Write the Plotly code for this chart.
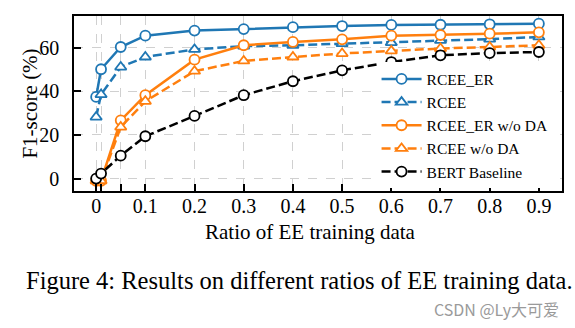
import plotly.graph_objects as go

# Ratio of event-extraction training data used
ratios = [0, 0.01, 0.05, 0.1, 0.2, 0.3, 0.4, 0.5, 0.6, 0.7, 0.8, 0.9]

# F1-score (%) per model
rcee_er = [37.4, 50.1, 60.3, 65.5, 67.8, 68.5, 69.4, 69.9, 70.4, 70.5, 70.7, 71.0]
rcee = [28.2, 38.5, 51.1, 55.7, 59.2, 60.7, 61.1, 61.8, 62.3, 63.3, 63.9, 64.9]
rcee_er_wo_da = [-1.0, -1.0, 26.7, 38.2, 54.5, 61.1, 62.6, 63.8, 65.5, 65.8, 66.4, 67.0]
rcee_wo_da = [-1.0, -1.0, 23.6, 35.4, 49.2, 53.9, 55.7, 57.3, 58.5, 59.6, 60.3, 61.1]
bert_baseline = [0.0, 2.3, 10.5, 19.4, 28.7, 38.2, 44.6, 49.6, 53.4, 56.5, 57.5, 58.0]

x_tickvals = [0, 0.01, 0.05, 0.1, 0.2, 0.3, 0.4, 0.5, 0.6, 0.7, 0.8, 0.9]
x_ticktext = ["0", "", "", "0.1", "0.2", "0.3", "0.4", "0.5", "0.6", "0.7", "0.8", "0.9"]
y_tickvals = [0, 20, 40, 60]

BLUE = "#1f77b4"
ORANGE = "#ff7f0e"
BLACK = "#000000"
SERIF = "Liberation Serif"

series = [
    ("RCEE_ER", rcee_er, BLUE, "solid", "circle"),
    ("RCEE", rcee, BLUE, "9px,4px", "triangle-up"),
    ("RCEE_ER w/o DA", rcee_er_wo_da, ORANGE, "solid", "circle"),
    ("RCEE w/o DA", rcee_wo_da, ORANGE, "9px,4px", "triangle-up"),
    ("BERT Baseline", bert_baseline, BLACK, "9px,4px", "circle"),
]

fig = go.Figure()
for name, vals, color, dash, symbol in series:
    fig.add_trace(go.Scatter(
        x=ratios, y=vals, name=name, mode="lines+markers",
        line=dict(color=color, width=2.5, dash=dash),
        marker=dict(symbol=symbol, size=10,
                    color="white", line=dict(color=color, width=1.8)),
    ))

fig.update_layout(
    width=575, height=328,
    margin=dict(l=74, r=13, t=16, b=137),
    paper_bgcolor="white", plot_bgcolor="white",
    font=dict(family=SERIF, size=20, color="black"),
    showlegend=True,
    legend=dict(
        x=0.62, y=0.735, xanchor="left", yanchor="top",
        bgcolor="white", borderwidth=0,
        font=dict(family=SERIF, size=15.5, color="black"),
        tracegroupgap=0, itemwidth=40,
    ),
    xaxis=dict(
        range=[-0.045, 0.947], tickvals=x_tickvals, ticktext=x_ticktext,
        ticks="inside", ticklen=7, tickwidth=1.5, tickcolor="black",
        showline=True, linecolor="black", linewidth=1.5, mirror=True,
        showgrid=True, gridcolor="#d0d0d0", griddash="dash", gridwidth=1,
        zeroline=False, ticklabelstandoff=-4,
        tickfont=dict(family=SERIF, size=20),
    ),
    yaxis=dict(
        range=[-5.7, 74.5], tickvals=y_tickvals,
        ticks="inside", ticklen=7, tickwidth=1.5, tickcolor="black",
        showline=True, linecolor="black", linewidth=1.5, mirror=True,
        showgrid=True, gridcolor="#d0d0d0", griddash="dash", gridwidth=1,
        zeroline=False, ticklabelstandoff=9,
        tickfont=dict(family=SERIF, size=20),
    ),
    annotations=[
        dict(text="Ratio of EE training data", xref="paper", yref="paper",
             x=0.485, y=-0.234, xanchor="center", yanchor="middle",
             showarrow=False, font=dict(family=SERIF, size=21)),
        dict(text="F1-score (%)", xref="paper", yref="paper",
             x=-0.092, y=0.5, xanchor="center", yanchor="middle",
             textangle=-90, showarrow=False, font=dict(family=SERIF, size=21)),
        dict(text="Figure 4: Results on different ratios of EE training data.",
             xref="paper", yref="paper", x=0.463, y=-0.514,
             xanchor="center", yanchor="middle", showarrow=False,
             font=dict(family=SERIF, size=24.5)),
        dict(text="CSDN @Ly大可爱", xref="paper", yref="paper",
             x=0.998, y=-0.674, xanchor="right", yanchor="middle",
             showarrow=False,
             font=dict(family="Noto Sans CJK SC", size=16, color="#9a9a9a")),
    ],
)

fig.write_html("out.html")
